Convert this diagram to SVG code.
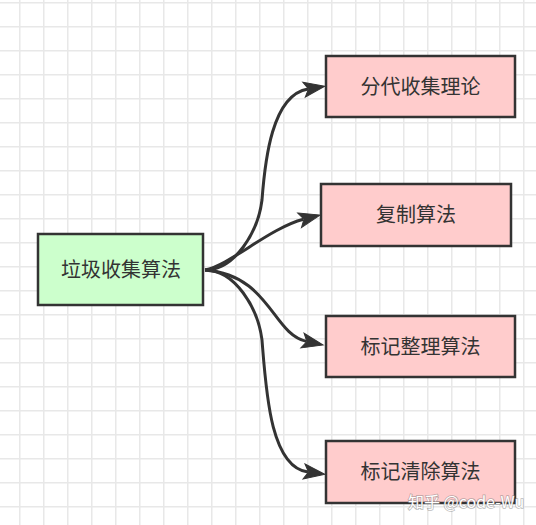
<svg xmlns="http://www.w3.org/2000/svg" width="536" height="525" viewBox="0 0 536 525">
  <defs>
    <pattern id="grid" patternUnits="userSpaceOnUse" x="19" y="2" width="24" height="24">
      <path d="M0.75,0 V24 M0,0.75 H24" fill="none" stroke="#e8e8e8" stroke-width="1.5"/>
    </pattern>
    <marker id="arrow" markerUnits="userSpaceOnUse" markerWidth="30" markerHeight="30" refX="0" refY="0" orient="auto" overflow="visible">
      <path d="M-4,-7.5 L17,0 L-4,7.5 L0.5,0 Z" fill="#333333" stroke="#333333" stroke-width="1" stroke-linejoin="miter"/>
    </marker>
    <style>
      .box { stroke: #333333; stroke-width: 2.5; }
      .pink { fill: #ffcccc; }
      .green { fill: #ccffcc; }
      .label { font-family: "Noto Sans CJK SC", "Noto Sans", sans-serif; font-size: 20px; fill: #333333; text-anchor: middle; }
      .edge { fill: none; stroke: #333333; stroke-width: 3; marker-end: url(#arrow); }
      .wm { font-family: "Noto Sans CJK SC", "Noto Sans", sans-serif; font-size: 16px; fill: #ffffff; stroke: #777777; stroke-opacity: 0.5; stroke-width: 1.5; paint-order: stroke; }
    </style>
  </defs>
  <rect width="536" height="525" fill="#ffffff"/>
  <rect width="536" height="525" fill="url(#grid)"/>

  <g id="connectors">
    <path class="edge" d="M205,270 C235,270 258,232 262,200 C265,160 272,95 308,89"/>
    <path class="edge" d="M205,270 C230,265 269.6,228 303.5,219.3"/>
    <path class="edge" d="M205,270 C270,275 272.2,334 306.4,341.4"/>
    <path class="edge" d="M205,270 C235,270 258,308 262,340 C266,390 270,467 308,472"/>
  </g>

  <g id="node-root">
    <rect class="box green" x="38" y="234" width="165" height="71"/>
    <text class="label" x="121" y="277">垃圾收集算法</text>
  </g>
  <g id="node-generational">
    <rect class="box pink" x="326" y="56" width="189" height="61"/>
    <text class="label" x="420.5" y="94">分代收集理论</text>
  </g>
  <g id="node-copy">
    <rect class="box pink" x="321" y="184" width="190" height="62"/>
    <text class="label" x="416" y="222">复制算法</text>
  </g>
  <g id="node-mark-compact">
    <rect class="box pink" x="326" y="316" width="189" height="61"/>
    <text class="label" x="420.5" y="354">标记整理算法</text>
  </g>
  <g id="node-mark-sweep">
    <rect class="box pink" x="326" y="441" width="189" height="62"/>
    <text class="label" x="420.5" y="479">标记清除算法</text>
  </g>

  <text class="wm" x="408" y="508">知乎 @code-Wu</text>
</svg>
